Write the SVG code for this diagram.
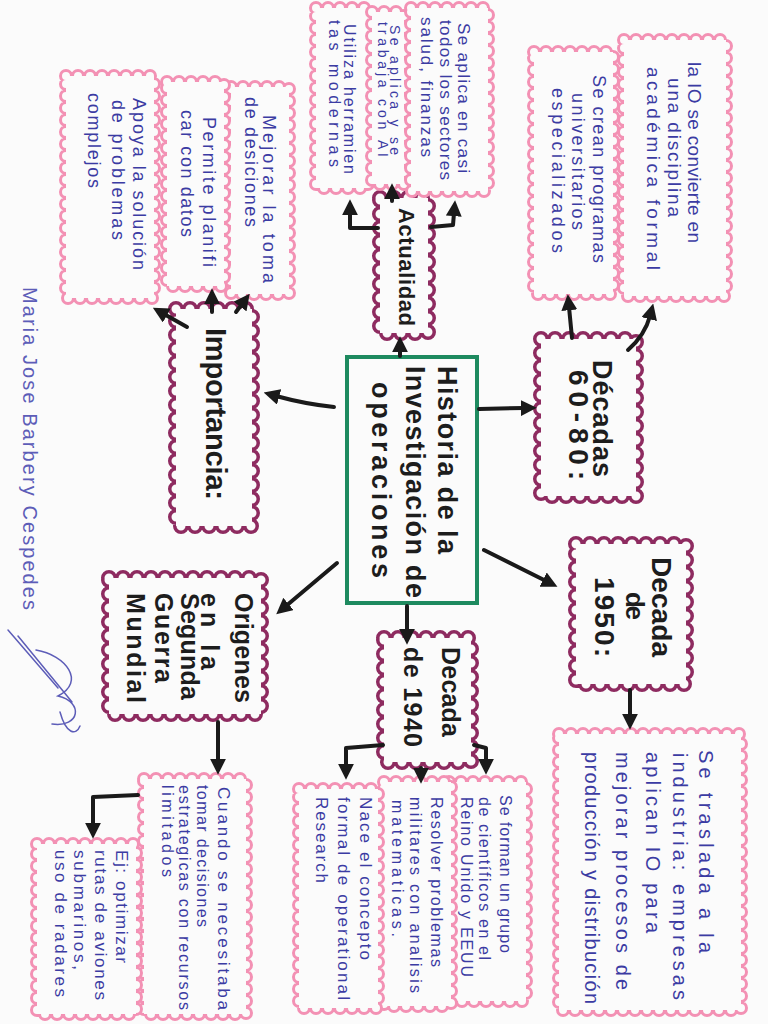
<svg xmlns="http://www.w3.org/2000/svg" width="768" height="1024" viewBox="0 0 768 1024">
<style>
text{font-family:"Liberation Sans",Arial,sans-serif}
.h{font-weight:bold;fill:#1d1d1d}
.l{fill:#3b3ba3}
.s{fill:#5d5db8}
.pk1{fill:none;stroke:#f391b4;stroke-width:14;stroke-dasharray:0 12;stroke-linecap:round}
.pk2{fill:none;stroke:#fbfbfb;stroke-width:8;stroke-dasharray:0 12;stroke-linecap:round}
.pu1{fill:none;stroke:#8e2b60;stroke-width:16;stroke-dasharray:0 14;stroke-linecap:round}
.pu2{fill:none;stroke:#fbfbfb;stroke-width:9;stroke-dasharray:0 14;stroke-linecap:round}
.in{fill:#fbfbfb}
.c{fill:none;stroke:#1a1a1a;stroke-width:4;stroke-linecap:round;stroke-linejoin:round;marker-end:url(#ah)}
</style>
<defs>
<marker id="ah" viewBox="0 0 10 10" refX="2" refY="5" markerWidth="4" markerHeight="4" orient="auto"><path d="M0,0 L10,5 L0,10 z" fill="#1a1a1a"/></marker>
</defs>
<rect width="768" height="1024" fill="#fbfbfb"/>

<g id="n-center">
<rect x="347" y="357" width="130" height="246" fill="#fbfbfb" stroke="#1e8a5f" stroke-width="4"/>
<text class="h" font-size="27" transform="translate(438,366) rotate(90)" textLength="188">Historia de la</text>
<text class="h" font-size="27" transform="translate(406,366) rotate(90)" textLength="232">Investigación de</text>
<text class="h" font-size="27" transform="translate(372,382) rotate(90)" textLength="196">operaciones</text>
</g>

<g id="n-importancia">
<rect class="pu1" x="176" y="309" width="76" height="217"/><rect class="pu2" x="176" y="309" width="76" height="217"/><rect class="in" x="176" y="309" width="76" height="217"/>
<text class="h" font-size="29" transform="translate(206,328) rotate(90)" textLength="172">Importancia:</text>
</g>

<g id="n-actualidad">
<rect class="pu1" x="380" y="198" width="48" height="135"/><rect class="pu2" x="380" y="198" width="48" height="135"/><rect class="in" x="380" y="198" width="48" height="135"/>
<text class="h" font-size="22" transform="translate(399,208) rotate(90)" textLength="118">Actualidad</text>
</g>

<g id="n-decadas6080">
<rect class="pu1" x="541" y="339" width="95" height="157"/><rect class="pu2" x="541" y="339" width="95" height="157"/><rect class="in" x="541" y="339" width="95" height="157"/>
<text class="h" font-size="27" transform="translate(593,360) rotate(90)" textLength="117">Décadas</text>
<text class="h" font-size="28" transform="translate(569,370) rotate(90)" textLength="110">60-80:</text>
</g>

<g id="n-decada1950">
<rect class="pu1" x="576" y="544" width="110" height="140"/><rect class="pu2" x="576" y="544" width="110" height="140"/><rect class="in" x="576" y="544" width="110" height="140"/>
<text class="h" font-size="28" transform="translate(652,557) rotate(90)" textLength="100">Decada</text>
<text class="h" font-size="26" transform="translate(626,592) rotate(90)" textLength="28">de</text>
<text class="h" font-size="28" transform="translate(595,577) rotate(90)" textLength="80">1950:</text>
</g>

<g id="n-origenes">
<rect class="pu1" x="109" y="578" width="152" height="136"/><rect class="pu2" x="109" y="578" width="152" height="136"/><rect class="in" x="109" y="578" width="152" height="136"/>
<text class="h" font-size="25" transform="translate(235,593) rotate(90)" textLength="110">Origenes</text>
<text class="h" font-size="25" transform="translate(201,593) rotate(90)" textLength="77">en la</text>
<text class="h" font-size="25" transform="translate(181,593) rotate(90)" textLength="107">Segunda</text>
<text class="h" font-size="25" transform="translate(155,593) rotate(90)" textLength="90">Guerra</text>
<text class="h" font-size="25" transform="translate(127,593) rotate(90)" textLength="110">Mundial</text>
</g>

<g id="n-decada1940">
<rect class="pu1" x="384" y="638" width="87" height="124"/><rect class="pu2" x="384" y="638" width="87" height="124"/><rect class="in" x="384" y="638" width="87" height="124"/>
<text class="h" font-size="25" transform="translate(442,647) rotate(90)" textLength="90">Decada</text>
<text class="h" font-size="25" transform="translate(404,647) rotate(90)" textLength="100">de 1940</text>
</g>

<g id="n-act-herramientas">
<rect class="pk1" x="316" y="8" width="52" height="180"/><rect class="pk2" x="316" y="8" width="52" height="180"/><rect class="in" x="316" y="8" width="52" height="180"/>
<text class="l" font-size="16" transform="translate(344,24) rotate(90)" textLength="150">Utiliza herramien</text>
<text class="l" font-size="16" transform="translate(329,20) rotate(90)" textLength="147">tas modernas</text>
</g>

<g id="n-act-ai">
<rect class="pk1" x="372" y="12" width="32" height="172"/><rect class="pk2" x="372" y="12" width="32" height="172"/><rect class="in" x="372" y="12" width="32" height="172"/>
<text class="l" font-size="14" transform="translate(390,25) rotate(90)" textLength="130">Se aplica y se</text>
<text class="l" font-size="14" transform="translate(378,22) rotate(90)" textLength="135">trabaja con AI</text>
</g>

<g id="n-act-sectores">
<rect class="pk1" x="411" y="8" width="77" height="183"/><rect class="pk2" x="411" y="8" width="77" height="183"/><rect class="in" x="411" y="8" width="77" height="183"/>
<text class="l" font-size="17" transform="translate(458,23) rotate(90)" textLength="150">Se aplica en casi</text>
<text class="l" font-size="17" transform="translate(440,20) rotate(90)" textLength="160">todos los sectores</text>
<text class="l" font-size="17" transform="translate(421,17) rotate(90)" textLength="140">salud, finanzas</text>
</g>

<g id="n-dec-programas">
<rect class="pk1" x="534" y="52" width="79" height="242"/><rect class="pk2" x="534" y="52" width="79" height="242"/><rect class="in" x="534" y="52" width="79" height="242"/>
<text class="l" font-size="18" transform="translate(593,75) rotate(90)" textLength="188">Se crean programas</text>
<text class="l" font-size="18" transform="translate(572,93) rotate(90)" textLength="137">universitarios</text>
<text class="l" font-size="18" transform="translate(552,88) rotate(90)" textLength="165">especializados</text>
</g>

<g id="n-dec-disciplina">
<rect class="pk1" x="624" y="40" width="102" height="256"/><rect class="pk2" x="624" y="40" width="102" height="256"/><rect class="in" x="624" y="40" width="102" height="256"/>
<text class="l" font-size="19" transform="translate(688,62) rotate(90)" textLength="181">la IO se convierte en</text>
<text class="l" font-size="19" transform="translate(668,78) rotate(90)" textLength="139">una disciplina</text>
<text class="l" font-size="19" transform="translate(647,67) rotate(90)" textLength="203">académica formal</text>
</g>

<g id="n-imp-decisiones">
<rect class="pk1" x="231" y="87" width="58" height="207"/><rect class="pk2" x="231" y="87" width="58" height="207"/><rect class="in" x="231" y="87" width="58" height="207"/>
<text class="l" font-size="18" transform="translate(263,115) rotate(90)" textLength="168">Mejorar la toma</text>
<text class="l" font-size="18" transform="translate(245,97) rotate(90)" textLength="130">de desiciones</text>
</g>

<g id="n-imp-planificar">
<rect class="pk1" x="167" y="82" width="57" height="204"/><rect class="pk2" x="167" y="82" width="57" height="204"/><rect class="in" x="167" y="82" width="57" height="204"/>
<text class="l" font-size="18" transform="translate(203,117) rotate(90)" textLength="150">Permite planifi</text>
<text class="l" font-size="18" transform="translate(181,110) rotate(90)" textLength="127">car con datos</text>
</g>

<g id="n-imp-problemas">
<rect class="pk1" x="66" y="76" width="88" height="222"/><rect class="pk2" x="66" y="76" width="88" height="222"/><rect class="in" x="66" y="76" width="88" height="222"/>
<text class="l" font-size="18" transform="translate(133,98) rotate(90)" textLength="172">Apoya la solución</text>
<text class="l" font-size="18" transform="translate(112,100) rotate(90)" textLength="140">de problemas</text>
<text class="l" font-size="18" transform="translate(88,93) rotate(90)" textLength="95">complejos</text>
</g>

<g id="n-1950-industria">
<rect class="pk1" x="559" y="734" width="182" height="276"/><rect class="pk2" x="559" y="734" width="182" height="276"/><rect class="in" x="559" y="734" width="182" height="276"/>
<text class="l" font-size="20" transform="translate(699,750) rotate(90)" textLength="203">Se traslada a la</text>
<text class="l" font-size="20" transform="translate(673,753) rotate(90)" textLength="247">industria: empresas</text>
<text class="l" font-size="20" transform="translate(646,752) rotate(90)" textLength="181">aplican IO para</text>
<text class="l" font-size="20" transform="translate(616,752) rotate(90)" textLength="238">mejorar procesos de</text>
<text class="l" font-size="20" transform="translate(585,752) rotate(90)" textLength="252">producción y distribución</text>
</g>

<g id="n-1940-cientificos">
<rect class="pk1" x="449" y="782" width="77" height="219"/><rect class="pk2" x="449" y="782" width="77" height="219"/><rect class="in" x="449" y="782" width="77" height="219"/>
<text class="l" font-size="16" transform="translate(500,795) rotate(90)" textLength="158">Se forman un grupo</text>
<text class="l" font-size="16" transform="translate(479,797) rotate(90)" textLength="163">de científicos en el</text>
<text class="l" font-size="16" transform="translate(461,797) rotate(90)" textLength="180">Reino Unido y EEUU</text>
</g>

<g id="n-1940-militares">
<rect class="pk1" x="384" y="782" width="67" height="224"/><rect class="pk2" x="384" y="782" width="67" height="224"/><rect class="in" x="384" y="782" width="67" height="224"/>
<text class="l" font-size="16" transform="translate(431,797) rotate(90)" textLength="170">Resolver problemas</text>
<text class="l" font-size="16" transform="translate(410,797) rotate(90)" textLength="196">militares con analisis</text>
<text class="l" font-size="16" transform="translate(392,800) rotate(90)" textLength="137">matematicas.</text>
</g>

<g id="n-1940-concepto">
<rect class="pk1" x="299" y="789" width="79" height="219"/><rect class="pk2" x="299" y="789" width="79" height="219"/><rect class="in" x="299" y="789" width="79" height="219"/>
<text class="l" font-size="17" transform="translate(360,797) rotate(90)" textLength="163">Nace el concepto</text>
<text class="l" font-size="17" transform="translate(338,797) rotate(90)" textLength="203">formal de operational</text>
<text class="l" font-size="17" transform="translate(316,797) rotate(90)" textLength="86">Research</text>
</g>

<g id="n-orig-cuando">
<rect class="pk1" x="144" y="779" width="102" height="235"/><rect class="pk2" x="144" y="779" width="102" height="235"/><rect class="in" x="144" y="779" width="102" height="235"/>
<text class="l" font-size="17" transform="translate(218,787) rotate(90)" textLength="223">Cuando se necesitaba</text>
<text class="l" font-size="16" transform="translate(197,785) rotate(90)" textLength="142">tomar decisiones</text>
<text class="l" font-size="16" transform="translate(179,785) rotate(90)" textLength="225">estrategicas con recursos</text>
<text class="l" font-size="16" transform="translate(162,785) rotate(90)" textLength="92">limitados</text>
</g>

<g id="n-orig-ejemplo">
<rect class="pk1" x="37" y="844" width="99" height="170"/><rect class="pk2" x="37" y="844" width="99" height="170"/><rect class="in" x="37" y="844" width="99" height="170"/>
<text class="l" font-size="17" transform="translate(116,850) rotate(90)" textLength="113">Ej: optimizar</text>
<text class="l" font-size="17" transform="translate(95,850) rotate(90)" textLength="150">rutas de aviones</text>
<text class="l" font-size="17" transform="translate(74,850) rotate(90)" textLength="120">submarinos,</text>
<text class="l" font-size="17" transform="translate(55,850) rotate(90)" textLength="147">uso de radares</text>
</g>

<g id="author">
<text class="s" font-size="20" transform="translate(23,287) rotate(90)" textLength="323">Maria Jose Barbery Cespedes</text>
<path d="M8,630 L58,688 M18,636 L72,702 M36,650 C66,655 86,682 58,696 C84,702 80,728 52,724 M60,712 C66,734 76,736 80,726" fill="none" stroke="#5d5db8" stroke-width="1.5" stroke-linecap="round"/>
</g>

<g id="connectors">
<path class="c" d="M334,407 Q305,404 276,396"/>
<path class="c" d="M479,409 L524,408"/>
<path class="c" d="M484,550 L546,581"/>
<path class="c" d="M337,563 L286,606"/>
<path class="c" d="M407,606 L407,632"/>
<path class="c" d="M400,356 L400,349"/>
<path class="c" d="M378,228 L350,228 L350,212"/>
<path class="c" d="M392,201 L392,196"/>
<path class="c" d="M431,227 L453,225 L454,213"/>
<path class="c" d="M187,327 L164,314"/>
<path class="c" d="M212,312 L212,301"/>
<path class="c" d="M236,312 L242,304"/>
<path class="c" d="M572,338 L569,307"/>
<path class="c" d="M628,350 Q645,335 650,316"/>
<path class="c" d="M630,690 L630,717"/>
<path class="c" d="M218,722 L218,762"/>
<path class="c" d="M138,795 L93,797 L93,826"/>
<path class="c" d="M383,745 L346,748 L346,767"/>
<path class="c" d="M421,768 L421,771"/>
<path class="c" d="M474,745 L486,748 L486,762"/>
</g>
</svg>
